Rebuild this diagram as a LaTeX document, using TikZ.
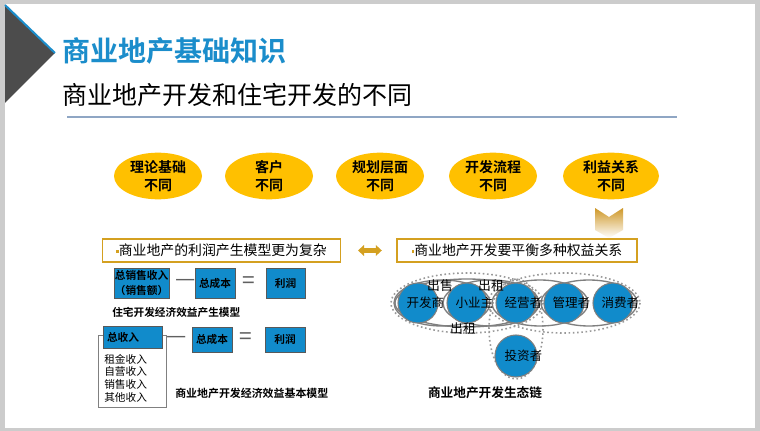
\documentclass[tikz,border=0pt]{standalone}
\usepackage{fontspec}
\setmainfont{Noto Sans CJK SC}[BoldFont={Noto Sans CJK SC Bold}]
\usetikzlibrary{shapes.geometric, arrows.meta}
\definecolor{ttlblue}{HTML}{1B8DCB}
\definecolor{ovlyellow}{HTML}{FFC000}
\definecolor{boxblue}{HTML}{118BCB}
\definecolor{hdrgold}{HTML}{D4A020}
\definecolor{ringgray}{HTML}{7F7F7F}
\definecolor{rulegray}{HTML}{8FA6C4}
\newcommand{\fs}[2]{\fontsize{#1}{#2}\selectfont}
\newcommand{\hdrbullet}{\textcolor{hdrgold}{\rule[0.35ex]{2pt}{2pt}}}
\tikzset{
  oval/.style={ellipse, fill=ovlyellow, minimum width=66pt, minimum height=35pt,
    inner sep=0pt, align=center, font=\bfseries\fs{10.5}{13.5}},
  hdrbox/.style={draw=hdrgold, line width=0.8pt, minimum width=179pt, minimum height=17.25pt,
    inner sep=2pt, font=\fs{10.4}{12}},
  termbox/.style={draw=gray!70!black, fill=boxblue, line width=0.6pt, minimum height=22.5pt,
    inner sep=0pt, align=center, font=\bfseries\fs{8}{11}},
  opsym/.style={font=\fs{17}{17}, text=gray!75!black, inner sep=0pt},
  caption/.style={font=\bfseries\fs{8}{10}, inner sep=0pt},
  actor/.style={circle, fill=boxblue, draw=ringgray, line width=0.8pt, minimum size=30pt,
    inner sep=0pt},
  actortext/.style={font=\fs{9.4}{10}, inner sep=0pt, xshift=5.5pt},
  rel/.style={font=\fs{9.6}{10}, inner sep=0pt},
  ring/.style={draw=ringgray, line width=1pt},
  dotring/.style={draw=gray!80, line width=1.2pt, dotted}
}
\begin{document}
\begin{tikzpicture}[x=0.75pt,y=-0.75pt]
\useasboundingbox (0,0) rectangle (760,431);
\fill[gray!40] (0,0) rectangle (760,431);
\fill[white] (5,4) rectangle (755,428);
\fill[black!70] (5,5) -- (55,53) -- (5,103) -- cycle;
\draw[ttlblue, line width=1.5pt] (5,5) -- (55,53);
\node[anchor=west, inner sep=0pt, text=ttlblue, font=\bfseries\fs{21}{21}] (title) at (62,51) {商业地产基础知识};
\node[anchor=west, inner sep=0pt, font=\fs{18.75}{19}] (subtitle) at (62,95) {商业地产开发和住宅开发的不同};
\draw[rulegray, line width=0.8pt] (67,117) -- (677,117);

\node[oval] (o1) at (158,176) {理论基础\\不同};
\node[oval] (o2) at (269,176) {客户\\不同};
\node[oval] (o3) at (380,176) {规划层面\\不同};
\node[oval] (o4) at (493,176) {开发流程\\不同};
\node[oval, minimum width=72pt] (o5) at (611,176) {利益关系\\不同};
\shade[top color=hdrgold!75!brown, bottom color=white, draw=none]
  (595,208) -- (609,217) -- (623,208) -- (623,230) -- (609,238) -- (595,230) -- cycle;

\node[hdrbox] (hdrL) at (221.5,250.5) {\hdrbullet 商业地产的利润产生模型更为复杂\hfill};
\node[hdrbox, minimum width=180pt] (hdrR) at (517,250.5) {\hdrbullet 商业地产开发要平衡多种权益关系};
\draw[hdrgold, line width=3.2pt, {Triangle[width=8pt,length=4.5pt]}-{Triangle[width=8pt,length=4.5pt]},
  shorten <=12.5pt, shorten >=11pt] (hdrL) -- (hdrR);

\node[termbox, minimum width=41.25pt] (sales) at (141.5,283) {总销售收入\\（销售额）};
\node[opsym] (minusA) at (186,283) {—};
\node[termbox, minimum width=30pt] (costA) at (215,283) {总成本};
\node[opsym] (eqA) at (248.5,283) {=};
\node[termbox, minimum width=29.25pt] (profitA) at (285.5,283) {利润};
\node[caption, anchor=west] (capA) at (112,312) {住宅开发经济效益产生模型};

\draw[gray, line width=0.6pt] (98,335) rectangle (166,407);
\node[termbox, minimum width=44.25pt, minimum height=16.5pt, text width=44.25pt, align=left] (income) at (132.5,337) {\hspace{3pt}总收入};
\node[anchor=west, align=left, inner sep=0pt, font=\fs{8}{9.5}] (incomes) at (104,378) {租金收入\\自营收入\\销售收入\\其他收入};
\node[opsym] (minusB) at (176.5,340) {—};
\node[termbox, minimum width=30pt, minimum height=18.75pt] (costB) at (212,339.5) {总成本};
\node[opsym] (eqB) at (246,339) {=};
\node[termbox, minimum width=30pt, minimum height=18.75pt] (profitB) at (285,339.5) {利润};
\node[caption, anchor=west, font=\bfseries\fs{8.2}{10}] (capB) at (175,393) {商业地产开发经济效益基本模型};

\draw[dotring] (467,303) ellipse (76 and 30);
\draw[dotring] (564,303) ellipse (76 and 30);
\draw[dotring] (516,329) ellipse (27 and 50);
\draw[ring] (467,303) ellipse (72 and 24);
\draw[ring] (442,303) ellipse (48 and 23);
\draw[ring] (491,303) ellipse (48 and 23);
\draw[ring] (540,303) ellipse (48 and 23);
\draw[ring] (589,303) ellipse (48 and 23);
\node[actor, label={[actortext]center:开发商}] (dev) at (418,303) {};
\node[actor, label={[actortext]center:小业主}] (owner) at (467,303) {};
\node[actor, label={[actortext]center:经营者}] (oper) at (516,303) {};
\node[actor, label={[actortext]center:管理者}] (mgr) at (564,303) {};
\node[actor, label={[actortext]center:消费者}] (cons) at (613,303) {};
\node[actor, minimum size=31.5pt, label={[actortext]center:投资者}] (inv) at (516,356) {};
\node[rel] (sell) at (440,286) {出售};
\node[rel] (rentA) at (491,286) {出租};
\node[rel] (rentB) at (463,329) {出租};
\node[caption, font=\bfseries\fs{9.5}{10}] (capC) at (485,393) {商业地产开发生态链};
\end{tikzpicture}
\end{document}
